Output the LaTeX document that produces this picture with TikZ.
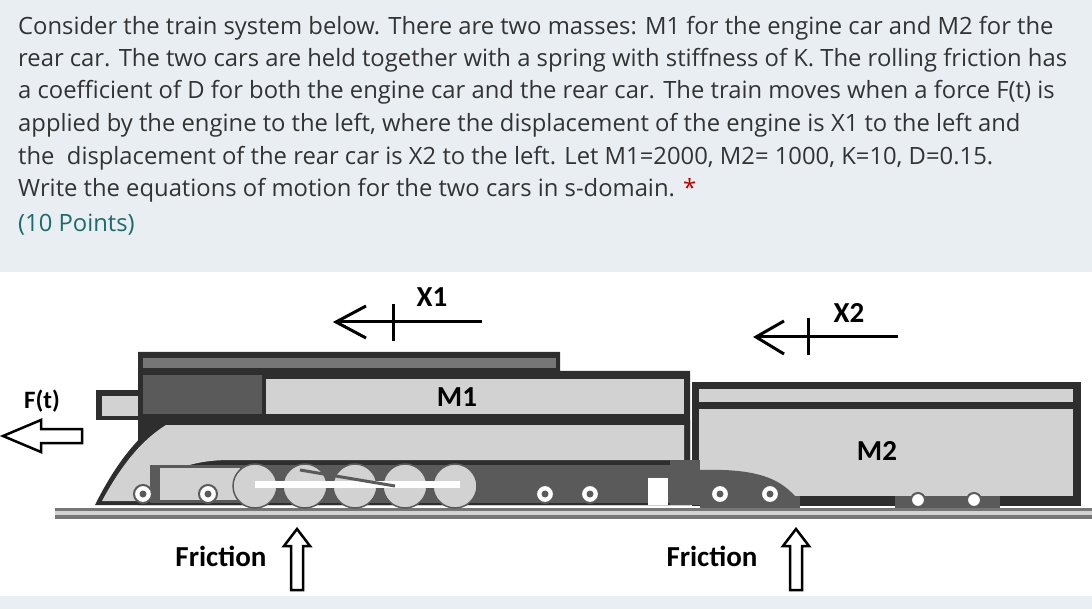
\documentclass[tikz,border=0pt]{standalone}
\usepackage{fontspec}
\setmainfont{Open Sans}
\newfontfamily\lbl{Carlito}
\definecolor{panel}{HTML}{E8EEF2}
\definecolor{lg}{HTML}{D2D2D2}
\definecolor{dg}{HTML}{5A5A5A}
\definecolor{mg}{HTML}{767676}
\definecolor{ol}{HTML}{2E2E2E}
\definecolor{teal}{HTML}{1D6B6B}
\definecolor{txt}{HTML}{333333}
\tikzset{
  q/.style={anchor=base west,inner sep=0pt,font=\fontsize{23.8}{26}\selectfont,text=txt},
  lab/.style={inner sep=0pt,font=\lbl\bfseries\fontsize{29}{30}\selectfont},
  body/.style={draw=ol,line width=2pt},
  wh/.style={fill=white,draw=dg,line width=2pt},
  big/.style={fill=lg,draw=dg,line width=1.5pt},
  hollow/.style={draw=black,line width=2.5pt,fill=white,line join=miter},
  disp/.style={line width=3pt}
}
\begin{document}
\begin{tikzpicture}[x=1pt,y=-1pt]
\useasboundingbox (0,0) rectangle (1092,609);
\fill[panel] (0,0) rectangle (1092,272);
\fill[white] (0,272) rectangle (1092,596);
\fill[panel] (0,596) rectangle (1092,609);
% question text
\node[q] (l1) at (18,35) {Consider the train system below. There are two masses: M1 for the engine car and M2 for the};
\node[q] (l2) at (18,67) {rear car. The two cars are held together with a spring with stiffness of K. The rolling friction has};
\node[q] (l3) at (18,99) {a coefficient of D for both the engine car and the rear car. The train moves when a force F(t) is};
\node[q] (l4) at (18,132) {applied by the engine to the left, where the displacement of the engine is X1 to the left and};
\node[q] (l5) at (18,165) {the\ \ displacement of the rear car is X2 to the left. Let M1=2000, M2= 1000, K=10, D=0.15.};
\node[q] (l6) at (18,197) {Write the equations of motion for the two cars in s-domain. \textcolor{red!75!black}{*}};
\node[q,text=teal] (l7) at (18,232) {(10 Points)};
% rail
\fill[mg] (55,508) rectangle (1092,519);
\fill[lg] (55,511) rectangle (1092,515);
% tender M2
\fill[ol] (692,382) rectangle (1081,506);
\fill[lg] (699,389) rectangle (1073,402);
\fill[lg] (699,409) rectangle (1073,496);
\fill[dg] (699,470) .. controls (760,468) and (780,480) .. (795,496) -- (699,496) -- cycle;
\fill[dg] (700,496) rectangle (800,508);
\fill[dg] (895,496) rectangle (1000,508);
% engine
\fill[ol] (138,352) -- (560,352) -- (560,371) -- (690,371) -- (690,505) -- (138,505) -- cycle;
\fill[ol] (96,390) rectangle (140,420);
\fill[lg] (102,396) rectangle (138,416);
\fill[dg] (143,375) rectangle (262,414);
\fill[lg] (266,379) rectangle (684,414);
\fill[mg] (143,358) rectangle (556,368);
% lower light body with slanted nose
\fill[ol] (95,505) .. controls (115,465) and (135,440) .. (160,420) -- (690,420) -- (690,505) -- cycle;
\fill[lg] (102,501) .. controls (122,464) and (142,440) .. (166,425) -- (684,425) -- (684,460) -- (230,460)
  .. controls (185,460) and (155,475) .. (138,501) -- cycle;
\fill[dg] (150,465) rectangle (684,503);
\fill[lg] (160,468) rectangle (240,500);
\fill[white] (648,478) rectangle (668,505);
\fill[dg] (670,460) rectangle (700,505);
% wheels
\foreach \x in {255,305,355,405,455} \draw[big] (\x,486) circle (22);
\fill[white] (255,481) rectangle (460,488);
\draw[dg,line width=3pt] (300,470) -- (395,486);
\foreach \x in {143,208,545,590,720,770} {\draw[wh] (\x,494) circle (9); \fill[dg] (\x,494) circle (3.5);}
\foreach \x in {918,974} {\draw[wh] (\x,500) circle (7);}
% labels
\node[lab] (m1) at (457,397) {M1};
\node[lab] (m2) at (877,451) {M2};
\node[lab,font=\lbl\bfseries\fontsize{25}{26}\selectfont] (ft) at (42,401) {F(t)};
\node[lab] (x1) at (432,297) {X1};
\node[lab] (x2) at (849,313) {X2};
\node[lab] (f1) at (221,556) {Friction};
\node[lab] (f2) at (712,556) {Friction};
% displacement arrows
\coordinate (a1s) at (482,322); \coordinate (a1e) at (336,322);
\draw[disp] (a1s) -- (a1e);
\draw[disp] (366,306) -- (a1e) -- (366,338);
\draw[disp] (393,304) -- (393,341);
\coordinate (a2s) at (898,337); \coordinate (a2e) at (756,337);
\draw[disp] (a2s) -- (a2e);
\draw[disp] (784,321) -- (a2e) -- (784,354);
\draw[disp] (808,318) -- (808,355);
% force arrow
\draw[hollow] (3,436) -- (41,420) -- (41,429) -- (82,429) -- (82,443) -- (41,443) -- (41,452) -- cycle;
% friction arrows
\foreach \x in {297,796}
  \draw[hollow] (\x,529) -- (\x+13,546) -- (\x+6,546) -- (\x+6,590) -- (\x-6,590) -- (\x-6,546) -- (\x-13,546) -- cycle;
\end{tikzpicture}
\end{document}
